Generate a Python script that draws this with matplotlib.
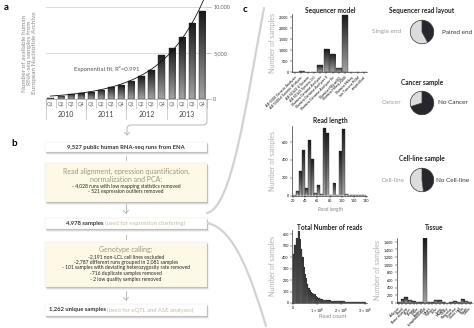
"""
Public RNA-seq sample overview: ENA growth, sample filtering flow, sample properties
"""

import numpy as np
import matplotlib
matplotlib.use('Agg')
import matplotlib.pyplot as plt
from matplotlib.patches import Rectangle, PathPatch
from matplotlib.path import Path
from matplotlib.colors import LinearSegmentedColormap

plt.rcParams['font.family'] = ['Lato', 'DejaVu Sans']

# ---------------------------------------------------------------- data
quarters = ['Q1', 'Q2', 'Q3', 'Q4']
years = ['2010', '2011', '2012', '2013']
ena_samples = [70, 360, 580, 620, 730, 985, 1350, 1500,
               2000, 2450, 3100, 4770, 5500, 6700, 8250, 9500]
fit_r2 = 0.991

seq_models = ['AB 5500 Genetic Analyzer', 'AB 5500xl Genetic Analyzer',
              'AB SOLiD 4 System', 'AB SOLiD System 3.0',
              'Illumina Genome Analyzer', 'Illumina Genome Analyzer II',
              'Illumina Genome Analyzer IIx', 'Illumina HiScanSQ',
              'Illumina HiSeq 2000', 'Illumina MiSeq', 'Ion Torrent PGM',
              'unspecified']
seq_counts = [8, 25, 12, 8, 300, 1030, 830, 200, 2620, 10, 8, 5]

read_len_edges = list(range(20, 141, 5))
read_len_counts = [10, 45, 280, 508, 82, 628, 411, 26, 120, 15, 762, 706,
                   5, 135, 2, 500, 744, 15, 3, 3, 2, 2, 2, 2]

read_count_bin = 5e6
read_count_hist = [430, 510, 570, 540, 625, 560, 470, 400, 310, 255,
                   215, 165, 130, 110, 100, 85, 78, 80, 62, 52,
                   45, 40, 36, 33, 30, 29, 28, 26, 25, 24,
                   22, 21, 20, 19, 18, 17, 16, 17, 18, 17,
                   16, 15, 14, 13, 12, 12, 11, 11, 10, 10,
                   9, 9, 8, 8, 7, 7, 6, 6, 5, 5]

tissues = ['Adipose', 'Blood', 'Bone marrow', 'Brain', 'Breast', 'Colon',
           'Embryo', 'Lymphoblastoid', 'Heart', 'Kidney', 'Liver', 'Lung',
           'Muscle', 'Ovary', 'Pancreas', 'Prostate', 'Stem cell',
           'Skin', 'Testis', 'Other']
tissue_counts = [35, 100, 150, 85, 40, 35, 25, 1690, 35, 20, 90, 75,
                 30, 10, 15, 45, 30, 100, 60, 30]

read_layout = [2090, 2888]     # paired end, single end
cancer = [3490, 1488]          # no cancer, cancer
cell_line = [2390, 2588]       # no cell-line, cell-line

# ---------------------------------------------------------------- figure
W, H = 474, 328
fig = plt.figure(figsize=(W / 100, H / 100), dpi=100)
bg = fig.add_axes([0, 0, 1, 1])
bg.set_xlim(0, W)
bg.set_ylim(H, 0)
bg.axis('off')

dark = '#26262c'
light = '#dcdcdc'
olive = '#9c987c'


def px_axes(x0, y0, x1, y1):
    ax = fig.add_axes([x0 / W, 1 - y1 / H, (x1 - x0) / W, (y1 - y0) / H])
    ax.patch.set_alpha(0)
    return ax


def grad_fill(ax, bars, top='#1a1a1a', bottom='#a2a2a2'):
    cmap = LinearSegmentedColormap.from_list('bar_grad', [bottom, top])
    g = np.linspace(0, 1, 50).reshape(-1, 1)
    for b in bars:
        h = b.get_height()
        if h <= 0:
            continue
        x0, w = b.get_x(), b.get_width()
        im = ax.imshow(g, extent=(x0, x0 + w, 0, h), origin='lower',
                       aspect='auto', cmap=cmap, zorder=2,
                       interpolation='bilinear')
        im.set_clip_path(b)


def style_small(ax):
    for s in ['top', 'right']:
        ax.spines[s].set_visible(False)
    for s in ['left', 'bottom']:
        ax.spines[s].set_linewidth(0.4)
    ax.tick_params(labelsize=2.6, length=1.5, width=0.3, pad=1)


def box(x0, y0, x1, y1, color):
    for k, a in enumerate([0.16, 0.10, 0.05]):
        bg.add_patch(Rectangle((x0 + 0.6 + k * 0.6, y0 + 1.0 + k * 0.8),
                               x1 - x0, y1 - y0, facecolor='#000',
                               edgecolor='none', alpha=a, zorder=1))
    bg.add_patch(Rectangle((x0, y0), x1 - x0, y1 - y0, facecolor=color,
                           edgecolor='#e6e6e6', linewidth=0.3, zorder=2))


def down_arrow(x, y_top, y_bot, head=True):
    bg.plot([x, x], [y_top, y_bot], color='#b0b0b0', lw=0.6, zorder=3)
    if head:
        bg.plot([x - 2.5, x, x + 2.5], [y_bot - 2.5, y_bot, y_bot - 2.5],
                color='#b0b0b0', lw=0.6, zorder=3)


# ---------------------------------------------------------------- panel a
bg.text(4, 8, 'a', fontsize=7, fontweight='bold', va='center')
axa = px_axes(45.5, 6.7, 207, 99)
xq = np.arange(len(ena_samples))
bars = axa.bar(xq, ena_samples, width=0.62, facecolor='none',
               edgecolor='#222', linewidth=0.3, zorder=3)
grad_fill(axa, bars)
coef = np.polyfit(xq, np.log(ena_samples), 1, w=np.sqrt(ena_samples))
xs = np.linspace(0, 15.5, 100)
axa.plot(xs, np.exp(coef[1] + coef[0] * xs), color='#111', lw=0.6,
         zorder=4, clip_on=False)
for v in [5000, 10000]:
    axa.axhline(v, color='#cccccc', lw=0.5, zorder=0, clip_on=False)
axa.set_xlim(-0.5, 15.5)
axa.set_ylim(0, 10000)
axa.yaxis.tick_right()
axa.set_yticks([0, 5000, 10000])
axa.set_yticklabels(['0', '5,000', '10,000'])
axa.tick_params(axis='y', labelsize=4, labelcolor='#666', color='#999',
                length=3, width=0.4, pad=1.5)
axa.set_xticks([])
for s in ['top', 'right', 'left']:
    axa.spines[s].set_visible(False)
axa.spines['bottom'].set_color('#999')
axa.spines['bottom'].set_linewidth(0.5)
axa.text(5.6, 3300, f'Exponential fit, R²={fit_r2}', fontsize=4.3,
         color='#555', ha='center', va='center')

tx = axa.get_xaxis_transform()
for i in range(len(ena_samples)):
    axa.text(i, -0.055, quarters[i % 4], transform=tx, fontsize=3.4,
             color='#666', ha='center', va='center')
for i in range(len(ena_samples) + 1):
    axa.plot([i - 0.5, i - 0.5], [0, -0.095], transform=tx,
             color='#aaa', lw=0.4, clip_on=False)
for j, yr in enumerate(years):
    axa.text(4 * j + 1.5, -0.168, yr, transform=tx, fontsize=5,
             color='#444', ha='center', va='center')
for j in range(len(years)):
    axa.plot([4 * j - 0.5, 4 * j - 0.5], [0, -0.22], transform=tx,
             color='#aaa', lw=0.4, clip_on=False)

bg.text(30, 53, 'Number of available human\nRNA-seq samples from\n'
        'European Nucleotide Archive', rotation=90, fontsize=4.6,
        color='#888', ha='center', va='center', linespacing=1.0)

# bracket from timeline to flow chart
bracket = Path([(207, 99), (207, 121), (207, 125), (203, 125),
                (131, 125), (127, 125), (127, 129), (127, 135)],
               [Path.MOVETO, Path.LINETO, Path.CURVE3, Path.CURVE3,
                Path.LINETO, Path.CURVE3, Path.CURVE3, Path.LINETO])
bg.add_patch(PathPatch(bracket, facecolor='none', edgecolor='#aaa', lw=0.6))
bg.plot([124.5, 127, 129.5], [132.5, 135, 132.5], color='#aaa', lw=0.6)

# ---------------------------------------------------------------- panel b
bg.text(11, 143, 'b', fontsize=7, fontweight='bold', va='center')
cx = 126

box(45, 142, 207, 152, 'white')
bg.text(cx, 147, '9,527 public human RNA-seq runs from ENA', fontsize=4.2,
        fontweight='bold', color='#333', ha='center', va='center', zorder=4)
down_arrow(cx, 156, 160, head=False)

box(45, 163, 207, 202, '#fdf9e6')
bg.text(cx, 175.5, 'Read alignment, epression quantification,\n'
        'normalization and PCA:', fontsize=5, color=olive, ha='center',
        va='center', linespacing=1.05, zorder=4)
bg.text(cx, 189, '- 4,028 runs with low mapping statistics removed\n'
        '- 521 expression outliers removed', fontsize=3.6, color='#222',
        ha='center', va='center', linespacing=1.15, zorder=4)
down_arrow(cx, 204, 213)

box(45, 218, 207, 229, 'white')
bg.text(104, 223.5, '4,978 samples', fontsize=4.2, fontweight='bold',
        color='#333', ha='right', va='center', zorder=4)
bg.text(105, 223.5, '(used for expression clustering)', fontsize=4.2,
        color='#c9b9a0', ha='left', va='center', zorder=4)
down_arrow(cx, 235, 239, head=False)

box(45, 242, 207, 287, '#fdf9e6')
bg.text(cx, 249.5, 'Genotype calling:', fontsize=5, color=olive,
        ha='center', va='center', zorder=4)
bg.text(cx, 268, '-2,191 non-LCL cell lines excluded\n'
        '-2,787 different runs grouped in 2,081 samples\n'
        '- 101 samples with deviating heterozygosity rate removed\n'
        '-716 duplicate samples removed\n'
        '- 2 low quality samples removed', fontsize=3.6, color='#222',
        ha='center', va='center', linespacing=1.15, zorder=4)
down_arrow(cx, 291, 300)

box(45, 304, 207, 316, 'white')
bg.text(106, 310, '1,262 unique samples', fontsize=4.2, fontweight='bold',
        color='#333', ha='right', va='center', zorder=4)
bg.text(107, 310, '(used for eQTL and ASE analyses)', fontsize=4.2,
        color='#c9b9a0', ha='left', va='center', zorder=4)

# connector curves to panel c
for pts in [[(207, 213), (232, 207), (245, 110), (264, 8)],
            [(207, 223), (235, 228), (252, 280), (266, 326)]]:
    p = Path(pts, [Path.MOVETO, Path.CURVE4, Path.CURVE4, Path.CURVE4])
    bg.add_patch(PathPatch(p, facecolor='none', edgecolor='#d2d2d2',
                           lw=1.6, capstyle='round'))

# ---------------------------------------------------------------- panel c
bg.text(243, 9, 'c', fontsize=7, fontweight='bold', va='center')

titles = [('Sequencer model', 330, 10), ('Read length', 330, 120),
          ('Total Number of reads', 330, 227),
          ('Sequencer read layout', 422, 10), ('Cancer sample', 422, 82),
          ('Cell-line sample', 422, 158), ('Tissue', 434, 227)]
for t, x, y in titles:
    bg.text(x, y, t, fontsize=4.7, fontweight='bold', color='#222',
            ha='center', va='center')
for x, y in [(273, 43), (273, 161), (273, 266), (378, 270)]:
    bg.text(x, y, 'Number of samples', rotation=90, fontsize=5,
            color='#b0b0b0', ha='center', va='center')

# sequencer model
ax1 = px_axes(292, 14, 367, 72)
b1 = ax1.bar(np.arange(len(seq_counts)), seq_counts, width=0.85,
             facecolor='none', edgecolor='#222', linewidth=0.25, zorder=3)
grad_fill(ax1, b1)
ax1.set_xlim(-0.5, len(seq_counts) - 0.5)
ax1.set_ylim(0, 2650)
ax1.set_yticks(range(0, 2501, 500))
ax1.set_yticklabels([f'{v:,}' for v in range(0, 2501, 500)])
ax1.set_xticks(np.arange(len(seq_counts)))
ax1.set_xticklabels(seq_models, rotation=45, ha='right',
                    rotation_mode='anchor', fontsize=2.3)
style_small(ax1)

# read length
ax2 = px_axes(292, 126, 367, 195.5)
b2 = ax2.bar(read_len_edges[:-1], read_len_counts, width=4.6, align='edge',
             facecolor='none', edgecolor='#222', linewidth=0.25, zorder=3)
grad_fill(ax2, b2)
ax2.set_xlim(18.5, 141.5)
ax2.set_ylim(0, 780)
ax2.set_xticks(range(20, 141, 20))
ax2.set_yticks(range(0, 601, 200))
style_small(ax2)
bg.text(330, 209, 'Read length', fontsize=3.4, color='#888', ha='center',
        va='center')

# total number of reads
ax3 = px_axes(292.3, 229.7, 366.7, 303)
left = np.arange(len(read_count_hist)) * read_count_bin
b3 = ax3.bar(left, read_count_hist, width=read_count_bin, align='edge',
             facecolor='none', edgecolor='#333', linewidth=0.2, zorder=3)
grad_fill(ax3, b3, top='#333333', bottom='#6a6a6a')
ax3.set_xlim(-0.04e8, 3.07e8)
ax3.set_ylim(0, 640)
ax3.set_xticks([0, 1e8, 2e8, 3e8])
ax3.set_xticklabels(['0', r'1 × 10$^8$', r'2 × 10$^8$', r'3 × 10$^8$'])
ax3.set_yticks(range(0, 601, 100))
style_small(ax3)
bg.text(333, 317, 'Read count', fontsize=4, color='#888', ha='center',
        va='center')

# tissue
ax4 = px_axes(396.7, 238, 471.7, 303)
b4 = ax4.bar(np.arange(len(tissue_counts)), tissue_counts, width=0.9,
             facecolor='none', edgecolor='#222', linewidth=0.25, zorder=3)
grad_fill(ax4, b4)
ax4.set_xlim(-0.5, len(tissue_counts) - 0.5)
ax4.set_ylim(0, 1700)
ax4.set_yticks(range(0, 1601, 200))
ax4.set_yticklabels([f'{v:,}' for v in range(0, 1601, 200)])
ax4.set_xticks(np.arange(len(tissue_counts)))
ax4.set_xticklabels(tissues, rotation=45, ha='right',
                    rotation_mode='anchor', fontsize=1.9)
style_small(ax4)

# pies
pies = [(read_layout, 32, 'Paired end', 'Single end', 457, 387),
        (cancer, 103, 'No Cancer', 'Cancer', 453, 392),
        (cell_line, 180, 'No Cell-line', 'Cell-line', 453, 393)]
for vals, cy, lab_dark, lab_light, xd, xl in pies:
    axp = px_axes(410, cy - 12, 434, cy + 12)
    axp.pie(vals, colors=[dark, light], startangle=90, counterclock=False,
            wedgeprops=dict(edgecolor='#333', linewidth=0.5))
    axp.set_xlim(-1.02, 1.02)
    axp.set_ylim(-1.02, 1.02)
    axp.set_aspect('equal')
    bg.text(xd, cy, lab_dark, fontsize=4.6, color='#333', ha='center',
            va='center')
    bg.text(xl, cy, lab_light, fontsize=4.6, color='#9a9a9a', ha='center',
            va='center')

fig.savefig('out.png', dpi=100, facecolor='white')
plt.close(fig)
